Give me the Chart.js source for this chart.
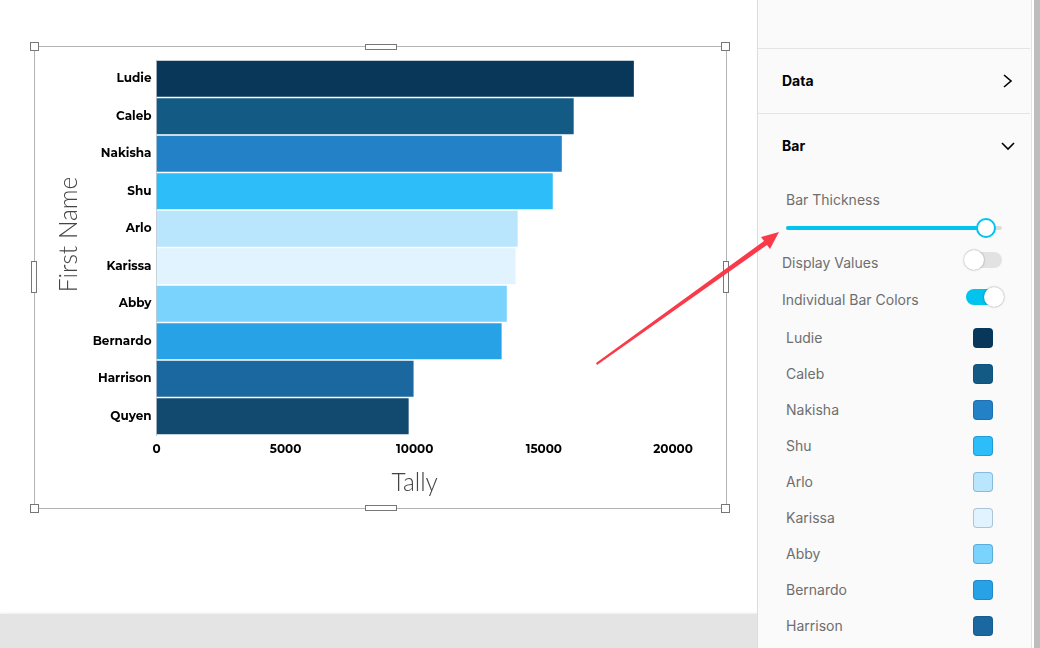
<!DOCTYPE html>
<html>
<head>
    <title>Bar chart editor</title>
    <style>
        html, body { margin: 0; padding: 0; width: 1040px; height: 648px; overflow: hidden; background: #fff; font-family: Inter, sans-serif; }
        .abs { position: absolute; }
        #bottom { left: 0; top: 614px; width: 758px; height: 34px; background: #e4e4e4; box-shadow: 0 -1px 2px rgba(0,0,0,.08); }
        #chartWrap { left: 34px; top: 46px; width: 692px; height: 462px; }
        #frame { left: 34px; top: 46px; width: 691px; height: 461px; border: 1px solid #b4b4b4; }
        .handle { position: absolute; background: #fff; border: 1px solid #777; box-sizing: border-box; }
        #panel { left: 757px; top: 0; width: 273px; height: 648px; background: #fafafa; border-left: 1px solid #dcdcdc; }
        #strip1 { left: 1031px; top: 0; width: 3px; height: 648px; background: #fff; border-left: 1px solid #e2e2e2; box-sizing: border-box; }
        #strip2 { left: 1034px; top: 0; width: 6px; height: 648px; background: #bdbdbd; }
        .sep { position: absolute; left: 758px; width: 272px; height: 1px; background: #e4e4e4; }
        .head { position: absolute; left: 782px; font-size: 14px; font-weight: 700; color: #000; line-height: 16px; }
        .lab { position: absolute; font-size: 14px; color: #6e6e6e; line-height: 18px; white-space: nowrap; }
        .swatch { position: absolute; left: 973px; width: 20px; height: 20px; border-radius: 4px; box-sizing: border-box; border: 1px solid rgba(0,60,110,.25); }
        .knob { position: absolute; width: 20px; height: 20px; border-radius: 50%; background: #fff; box-shadow: 0 0 2px rgba(0,0,0,.45); }
        svg { position: absolute; left: 0; top: 0; }
    </style>
    <script src="https://cdn.jsdelivr.net/npm/chart.js"></script>
</head>
<body>
    <div class="abs" id="bottom"></div>
    <div class="abs" id="frame"></div>
    <div class="abs" id="chartWrap"><canvas id="myChart" width="692" height="462"></canvas></div>
    <div class="abs" id="panel"></div>
    <div class="abs" id="strip1"></div>
    <div class="abs" id="strip2"></div>
    <div id="ui"></div>

    <svg width="1040" height="648">
        <polyline points="1004,75 1011,81 1004,87" fill="none" stroke="#000" stroke-width="1.6"/>
        <polyline points="1002,143 1008,149 1014,143" fill="none" stroke="#000" stroke-width="1.6"/>
        <polygon points="596,363 764,241 761,237 779,232 770,249 767,245 597,365" fill="#f93a48"/>
    </svg>

    <script>
        const categories = ['Ludie', 'Caleb', 'Nakisha', 'Shu', 'Arlo', 'Karissa', 'Abby', 'Bernardo', 'Harrison', 'Quyen'];
        const tally = [18510, 16180, 15720, 15370, 14010, 13930, 13590, 13390, 9980, 9790];
        const barColors = ['#08375a', '#135a85', '#2382c7', '#2dbdf8', '#b9e5fd', '#e1f3fe', '#79d3fd', '#28a2e6', '#1a689f', '#124a6f'];
        const xTicks = [0, 5000, 10000, 15000, 20000];
        const xTitle = 'Tally';
        const yTitle = 'First Name';

        const tickFont = { family: 'Montserrat, Inter, sans-serif', size: 12, weight: '700' };
        const titleFont = { family: 'Lato, sans-serif', size: 24.5, weight: '300' };

        // y axis title sits a bit above the plot centre, so it is drawn here
        const yTitlePlugin = {
            id: 'yTitlePlugin',
            afterDraw(chart) {
                const c = chart.ctx;
                c.save();
                c.translate(35.5, 188.5);
                c.rotate(-Math.PI / 2);
                c.font = '300 24.5px Lato, sans-serif';
                c.fillStyle = '#444';
                c.textAlign = 'center';
                c.textBaseline = 'middle';
                c.fillText(yTitle, 0, 0);
                c.restore();
            }
        };

        Chart.defaults.animation = false;
        new Chart(document.getElementById('myChart').getContext('2d'), {
            type: 'bar',
            plugins: [yTitlePlugin],
            data: {
                labels: categories,
                datasets: [{
                    data: tally,
                    backgroundColor: barColors,
                    borderColor: 'rgba(255,255,255,0.65)',
                    borderWidth: 1,
                    barPercentage: 1,
                    categoryPercentage: 1
                }]
            },
            options: {
                indexAxis: 'y',
                responsive: false,
                layout: { padding: { top: 14, right: 53 } },
                plugins: { legend: { display: false }, tooltip: { enabled: false } },
                scales: {
                    x: {
                        min: 0,
                        max: 20000,
                        afterFit(scale) { scale.height = 73; },
                        afterBuildTicks(scale) { scale.ticks = xTicks.map(v => ({ value: v })); },
                        grid: { display: false, drawTicks: false, tickLength: 0 },
                        border: { display: false },
                        ticks: { color: '#000', font: tickFont, maxRotation: 0, padding: 7.5, callback: v => String(v) },
                        title: { display: true, text: xTitle, color: '#444', font: titleFont, padding: { top: 0, bottom: 10 } }
                    },
                    y: {
                        afterFit(scale) { scale.width = 122.5; },
                        grid: { display: false, drawTicks: false, tickLength: 0 },
                        border: { display: true, color: '#c4ccd2' },
                        ticks: { color: '#000', font: tickFont, padding: 5 }
                    }
                }
            }
        });

        // side panel
        const ui = document.getElementById('ui');
        function add(html) { ui.insertAdjacentHTML('beforeend', html); }

        [48, 113].forEach(y => add(`<div class="sep" style="top:${y}px"></div>`));
        add('<div class="head" style="top:73px">Data</div>');
        add('<div class="head" style="top:138px">Bar</div>');
        add('<div class="lab" style="left:786px;top:191px">Bar Thickness</div>');
        add('<div class="abs" style="left:786px;top:226px;width:216px;height:4px;background:#dcdcdc;border-radius:2px"></div>');
        add('<div class="abs" style="left:786px;top:226px;width:200px;height:4px;background:#00c3ee;border-radius:2px"></div>');
        add('<div class="abs" style="left:976px;top:218px;width:20px;height:20px;box-sizing:border-box;border:2px solid #00c3ee;border-radius:50%;background:#fff"></div>');
        add('<div class="lab" style="left:782px;top:254px">Display Values</div>');
        add('<div class="abs" style="left:965px;top:252px;width:37px;height:16px;background:#e2e2e2;border-radius:8px"></div>');
        add('<div class="knob" style="left:964px;top:250px"></div>');
        add('<div class="lab" style="left:782px;top:291px">Individual Bar Colors</div>');
        add('<div class="abs" style="left:966px;top:289px;width:37px;height:16px;background:#00c3ee;border-radius:8px"></div>');
        add('<div class="knob" style="left:984px;top:287px"></div>');

        categories.slice(0, 9).forEach((name, i) => {
            const y = 338 + 36 * i;
            add(`<div class="lab" style="left:786px;top:${y - 9}px">${name}</div>`);
            add(`<div class="swatch" style="top:${y - 10}px;background:${barColors[i]}"></div>`);
        });

        // selection handles around the chart
        const handles = [
            [30, 42, 9, 9], [365, 44, 32, 6], [721, 42, 9, 9],
            [30, 504, 9, 9], [365, 505, 32, 6], [721, 504, 9, 9],
            [31, 261, 6, 32], [723, 261, 6, 32]
        ];
        handles.forEach(h => add(`<div class="handle" style="left:${h[0]}px;top:${h[1]}px;width:${h[2]}px;height:${h[3]}px"></div>`));
    </script>
</body>
</html>
